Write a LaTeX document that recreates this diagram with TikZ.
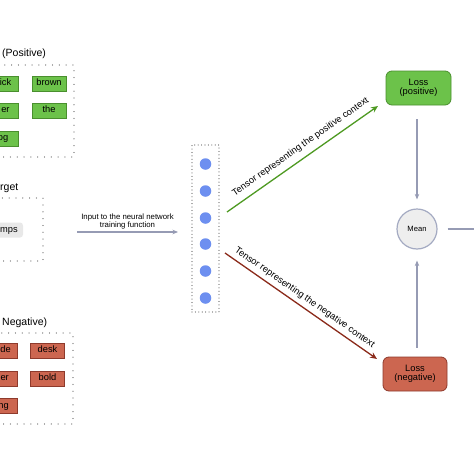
\documentclass[tikz,border=0pt]{standalone}
\usepackage{fontspec}
\setmainfont{Liberation Sans}
\usetikzlibrary{arrows.meta,fit}
\definecolor{gfill}{HTML}{6CC24A}
\definecolor{gdraw}{HTML}{4A8F2E}
\definecolor{rfill}{HTML}{CC6650}
\definecolor{rdraw}{HTML}{8E3A2C}
\definecolor{dotc}{HTML}{9A9A9A}
\definecolor{neur}{HTML}{6D8FF0}
\definecolor{garrc}{HTML}{969BB4}
\definecolor{greenarr}{HTML}{4E9A22}
\definecolor{redarr}{HTML}{8B2A1A}
\definecolor{meanfill}{HTML}{EEEEEE}
\definecolor{meandraw}{HTML}{A4AAC2}
\tikzset{
  word/.style={minimum width=34pt,minimum height=15pt,inner sep=0,font=\fontsize{9.3}{10}\selectfont,text height=6.6pt,text depth=1.9pt},
  posw/.style={word,fill=gfill,draw=gdraw,line width=0.6pt},
  negw/.style={word,fill=rfill,draw=rdraw,line width=0.6pt},
  tgtw/.style={word,fill=black!9,rounded corners=3pt},
  frag/.style={anchor=east,inner sep=0,font=\fontsize{9.3}{10}\selectfont,text height=6.6pt,text depth=1.9pt},
  title/.style={anchor=west,inner sep=0,font=\fontsize{10.5}{12}\selectfont},
  dotbox/.style={draw=dotc,line width=1.2pt,dash pattern=on 0.01pt off 6.8pt,line cap=round,inner sep=0},
  nnbox/.style={draw=dotc,line width=1.1pt,dash pattern=on 0.01pt off 3.4pt,line cap=round,inner sep=0},
  neuron/.style={circle,fill=neur,minimum size=11.5pt,inner sep=0},
  loss/.style={rounded corners=6pt,minimum width=65pt,minimum height=34pt,inner sep=0,align=center,font=\fontsize{9.3}{9.5}\selectfont,line width=0.8pt},
  garr/.style={draw=garrc,line width=1.4pt,-{Stealth[length=5.5pt,width=4.5pt]}},
  lab/.style={font=\fontsize{9.3}{10}\selectfont,inner sep=1pt},
}
\begin{document}
\begin{tikzpicture}[x=1pt,y=-1pt]
\useasboundingbox (0,0) rectangle (474,474);
\clip (0,0) rectangle (474,474);
\fill[white] (0,0) rectangle (474,474);
% positive context
\node[title] (pt) at (2,54) {(Positive)};
\node[dotbox,fit={(-10,65) (74,157)}] (pbox) {};
\node[posw] (p1) at (1,83.5) {};
\node[frag] (p1t) at (11.5,83.5) {ick};
\node[posw] (p2) at (49,83.5) {brown};
\node[posw] (p3) at (1,110.5) {};
\node[frag] (p3t) at (9.75,110.5) {er};
\node[posw] (p4) at (49,110.5) {the};
\node[posw] (p5) at (1,138.5) {};
\node[frag] (p5t) at (8.5,138.5) {og};
% target
\node[title] (tt) at (0,188) {rget};
\node[dotbox,fit={(-10,198) (43,261)}] (tbox) {};
\node[tgtw] (t1) at (6,230) {};
\node[frag] (t1t) at (18,230) {mps};
% negative context
\node[title] (nt) at (2,323) {Negative)};
\node[dotbox,fit={(-10,333) (73,424)}] (nbox) {};
\node[negw] (q1) at (0,350.5) {};
\node[frag] (q1t) at (11,350.5) {de};
\node[negw] (q2) at (47.5,350.5) {desk};
\node[negw] (q3) at (0,378.5) {};
\node[frag] (q3t) at (9,378.5) {er};
\node[negw] (q4) at (47.5,378.5) {bold};
\node[negw] (q5) at (0,406) {};
\node[frag] (q5t) at (9,406) {ng};
% input arrow
\coordinate (inA) at (77,232);
\coordinate (inB) at (178,232);
\draw[garr] (inA) -- (inB) node[midway,above=2pt,align=center,inner sep=0,font=\fontsize{7.8}{8.6}\selectfont] (inlab) {Input to the neural network\\training function};
% neural column
\node[nnbox,fit={(192,145) (219,312)}] (nn) {};
\foreach \i/\y in {1/164,2/191,3/218,4/244,5/271,6/298}
  \node[neuron] (n\i) at (205.5,\y) {};
% loss boxes and mean
\node[loss,fill=gfill,draw=gdraw] (lp) at (418.5,88) {Loss\\(positive)};
\node[loss,fill=rfill,draw=rdraw,minimum width=64pt] (ln) at (415,374) {Loss\\(negative)};
\node[circle,fill=meanfill,draw=meandraw,line width=1.2pt,minimum size=40pt,inner sep=0,font=\fontsize{7.6}{8}\selectfont] (mean) at (417,229) {Mean};
% tensor arrows
\coordinate (gA) at (227,212);
\coordinate (gB) at (378,106);
\draw[draw=greenarr,line width=1.3pt,-{Stealth[length=7pt,width=6pt]}] (gA) -- (gB) node[lab,sloped,above=5pt,pos=0.53] (glab) {Tensor representing the positive context};
\coordinate (rA) at (225,253);
\coordinate (rB) at (377,359);
\draw[draw=redarr,line width=1.3pt,-{Stealth[length=7pt,width=6pt]}] (rA) -- (rB) node[lab,sloped,above=3pt,pos=0.49] (rlab) {Tensor representing the negative context};
% to mean
\draw[garr] ([yshift=-14pt]mean.north |- lp.south) -- ([yshift=9pt]mean.north);
\draw[garr] ([yshift=9pt]mean.south |- ln.north) -- ([yshift=-11pt]mean.south);
\coordinate (outR) at (480,229);
\draw[draw=garrc,line width=1.4pt] ([xshift=10pt]mean.east) -- (outR);
\end{tikzpicture}
\end{document}
